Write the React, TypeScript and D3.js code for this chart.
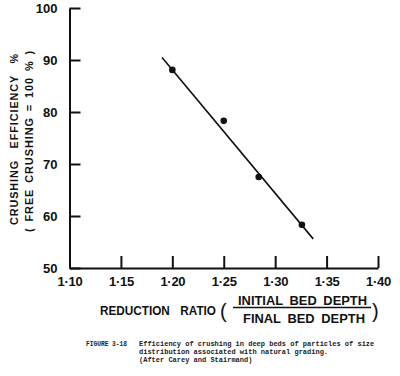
import React, { useEffect, useRef } from 'react';
import * as d3 from 'd3';

// measured points (reduction ratio, crushing efficiency %)
const ratios = [1.2, 1.25, 1.284, 1.326];
const efficiencies = [88.1, 78.3, 67.5, 58.3];
// ends of the fitted line
const fitRatios = [1.19, 1.337];
const fitEfficiencies = [90.5, 55.6];
const xTicks = [1.1, 1.15, 1.2, 1.25, 1.3, 1.35, 1.4];
const yTicks = [50, 60, 70, 80, 90, 100];
const captionLines = [
  'Efficiency of crushing in deep beds of particles of size',
  'distribution associated with natural grading.',
  '(After Carey and Stairmand)'
];

export default function App() {
  const ref = useRef<SVGSVGElement>(null);

  useEffect(() => {
    const svg = d3.select(ref.current);
    svg.selectAll('*').remove();
    const font = '"Liberation Sans", Arial, sans-serif';

    const x = d3.scaleLinear().domain([1.1, 1.4]).range([69.5, 378]);
    const y = d3.scaleLinear().domain([50, 100]).range([268, 8]);

    // y axis, ticks pointing inwards
    const yAxis = svg.append('g')
      .attr('transform', 'translate(' + x(1.1) + ',0)')
      .call(d3.axisLeft(y).tickValues(yTicks).tickSizeInner(-11).tickSizeOuter(0).tickPadding(12));
    // x axis
    const xAxis = svg.append('g')
      .attr('transform', 'translate(0,' + y(50) + ')')
      .call(d3.axisBottom(x).tickValues(xTicks).tickSizeInner(-12).tickSizeOuter(0).tickPadding(9)
        .tickFormat((d) => d3.format('.2f')(d as number).replace('.', '·')));

    [yAxis, xAxis].forEach((g) => {
      g.select('.domain').attr('stroke', '#111').attr('stroke-width', 2);
      g.selectAll('.tick line').attr('stroke', '#111').attr('stroke-width', 2);
      g.selectAll('.tick text')
        .attr('font-family', font)
        .attr('font-weight', 'bold')
        .attr('font-size', 13)
        .attr('fill', '#111');
    });
    xAxis.selectAll('.tick text').attr('letter-spacing', -0.3);

    // fitted line
    const line = d3.line<number>()
      .x((d, i) => x(fitRatios[i]))
      .y((d) => y(d));
    svg.append('path')
      .datum(fitEfficiencies)
      .attr('d', line)
      .attr('fill', 'none')
      .attr('stroke', '#111')
      .attr('stroke-width', 1.6);

    // points
    svg.append('g')
      .selectAll('circle')
      .data(efficiencies)
      .enter()
      .append('circle')
      .attr('cx', (d, i) => x(ratios[i]))
      .attr('cy', (d) => y(d))
      .attr('r', 3.3)
      .attr('fill', '#111');

    // y title, two rotated lines
    const yTitle = svg.append('g')
      .attr('font-family', font)
      .attr('font-weight', 'bold')
      .attr('font-size', 11.5)
      .attr('fill', '#111')
      .attr('text-anchor', 'middle');
    yTitle.append('text')
      .attr('transform', 'translate(17.5,139) rotate(-90)')
      .attr('letter-spacing', 1)
      .attr('word-spacing', 8)
      .attr('textLength', 172)
      .attr('lengthAdjust', 'spacingAndGlyphs')
      .text('CRUSHING EFFICIENCY %');
    yTitle.append('text')
      .attr('transform', 'translate(32.5,141) rotate(-90)')
      .attr('letter-spacing', 1)
      .attr('word-spacing', 2)
      .attr('textLength', 182)
      .attr('lengthAdjust', 'spacingAndGlyphs')
      .text('( FREE CRUSHING = 100 % )');

    // x title with fraction
    const xTitle = svg.append('g')
      .attr('font-family', font)
      .attr('font-weight', 'bold')
      .attr('fill', '#111');
    xTitle.append('text')
      .attr('x', 100)
      .attr('y', 315)
      .attr('font-size', 13)
      .attr('word-spacing', 8)
      .attr('textLength', 116)
      .attr('lengthAdjust', 'spacingAndGlyphs')
      .text('REDUCTION RATIO');
    xTitle.append('text')
      .attr('x', 220)
      .attr('y', 318)
      .attr('font-size', 20)
      .attr('font-weight', 'normal')
      .text('(');
    xTitle.append('text')
      .attr('x', 372)
      .attr('y', 318)
      .attr('font-size', 20)
      .attr('font-weight', 'normal')
      .text(')');
    xTitle.append('text')
      .attr('x', 238)
      .attr('y', 304.5)
      .attr('font-size', 12.5)
      .attr('word-spacing', 3)
      .attr('textLength', 129)
      .attr('lengthAdjust', 'spacingAndGlyphs')
      .text('INITIAL BED DEPTH');
    xTitle.append('line')
      .attr('x1', 233)
      .attr('x2', 371)
      .attr('y1', 307.5)
      .attr('y2', 307.5)
      .attr('stroke', '#111')
      .attr('stroke-width', 1.5);
    xTitle.append('text')
      .attr('x', 243)
      .attr('y', 322.5)
      .attr('font-size', 12.5)
      .attr('word-spacing', 3)
      .attr('textLength', 122)
      .attr('lengthAdjust', 'spacingAndGlyphs')
      .text('FINAL BED DEPTH');

    // caption
    const cap = svg.append('g')
      .attr('font-family', '"Liberation Mono", "DejaVu Sans Mono", monospace')
      .attr('font-weight', 'bold')
      .attr('fill', '#222');
    cap.append('text')
      .attr('x', 86)
      .attr('y', 346)
      .attr('font-size', 6.8)
      .attr('textLength', 41)
      .attr('lengthAdjust', 'spacingAndGlyphs')
      .text('FIGURE 3-18');
    cap.selectAll('text.line')
      .data(captionLines)
      .enter()
      .append('text')
      .attr('class', 'line')
      .attr('x', 139)
      .attr('y', (d, i) => 346 + i * 8.2)
      .attr('font-size', 7)
      .text((d) => d);
  }, []);

  return (
    <svg ref={ref} width={400} height={376}
      style={{ position: 'absolute', left: 0, top: 0, background: '#fff' }} />
  );
}
